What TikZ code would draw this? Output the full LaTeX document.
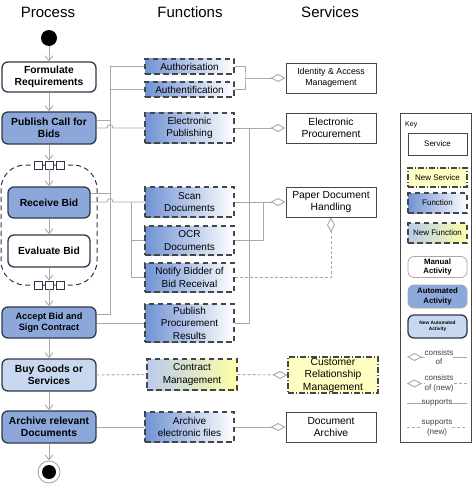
\documentclass[tikz,border=0pt]{standalone}
\usepackage{fontspec}
\setmainfont{Liberation Sans}
\usetikzlibrary{arrows.meta,shapes.geometric,calc}
\definecolor{autob}{RGB}{140,168,218}
\definecolor{lightb}{RGB}{200,216,240}
\definecolor{funcb}{RGB}{112,146,212}
\definecolor{nfuncb}{RGB}{185,203,236}
\definecolor{yel}{RGB}{255,255,196}
\definecolor{bord}{RGB}{48,56,76}
\definecolor{dash}{RGB}{70,70,70}
\definecolor{conc}{RGB}{168,168,168}
\begin{document}
\begin{tikzpicture}[x=1pt,y=-1pt,
  act/.style={draw=bord, line width=1.3pt, rounded corners=6pt, align=center, inner sep=0pt,
    font=\bfseries\fontsize{10.3}{12.5}\selectfont},
  autoact/.style={act, fill=autob},
  manact/.style={act, fill=white},
  newact/.style={act, fill=lightb},
  func/.style={draw=dash, line width=1.1pt, dash pattern=on 5.5pt off 3.5pt, left color=funcb, right color=white,
    align=center, inner sep=0pt, font=\fontsize{10}{12.5}\selectfont},
  newfunc/.style={func, left color=nfuncb, middle color=white, right color=yel!85!yellow},
  serv/.style={draw=dash, line width=0.9pt, fill=white, align=center, inner sep=0pt,
    font=\fontsize{10.3}{12.5}\selectfont},
  newserv/.style={serv, fill=yel, line width=1.1pt, dash pattern=on 6pt off 2pt on 1pt off 2pt},
  pin/.style={draw=bord, line width=0.8pt, fill=white, minimum width=8pt, minimum height=8pt, inner sep=0pt},
  conn/.style={draw=conc, line width=0.9pt},
  connnew/.style={draw=conc, line width=0.9pt, dash pattern=on 3pt off 2pt},
  flow/.style={draw=conc, line width=0.9pt, -{Straight Barb[length=5pt,width=8pt]}},
  dia/.style={-{Diamond[open,length=15pt,width=8pt]}},
  title/.style={font=\fontsize{15}{18}\selectfont},
  keytxt/.style={font=\fontsize{8}{9.5}\selectfont, align=center, inner sep=0pt}
]
\useasboundingbox (0,0) rectangle (474,484);

% titles
\node[title] (tproc) at (48,12) {Process};
\node[title] (tfunc) at (190,12) {Functions};
\node[title] (tserv) at (330,12) {Services};

% region with pins
\node[draw=bord, line width=1pt, dash pattern=on 5pt off 3.5pt, rounded corners=24pt,
  minimum width=96pt, minimum height=120pt, inner sep=0pt] (reg) at (49,225) {};
\node[pin] (pt1) at (38,165) {};
\node[pin] (pt2) at (49,165) {};
\node[pin] (pt3) at (60,165) {};
\node[pin] (pb1) at (38,285) {};
\node[pin] (pb2) at (49,285) {};
\node[pin] (pb3) at (60,285) {};

% start / end
\node[circle, fill=black, minimum size=16pt, inner sep=0pt] (start) at (49,38) {};
\node[circle, draw=conc, line width=0.9pt, fill=white, minimum size=22pt, inner sep=0pt] (endo) at (49,472) {};
\node[circle, fill=black, minimum size=14pt, inner sep=0pt] (endi) at (49,472) {};

% activities
\node[manact, minimum width=94pt, minimum height=30pt] (formulate) at (49,77) {Formulate\\Requirements};
\node[autoact, minimum width=94pt, minimum height=32pt] (publish) at (49,128) {Publish Call for\\Bids};
\node[autoact, minimum width=82pt, minimum height=31pt] (receive) at (49,202.5) {Receive Bid};
\node[manact, minimum width=82pt, minimum height=32pt] (evaluate) at (49,251) {Evaluate Bid};
\node[autoact, minimum width=94pt, minimum height=31pt, font=\bfseries\fontsize{9.2}{11.5}\selectfont] (accept) at (49,322.5) {Accept Bid and\\Sign Contract};
\node[newact, minimum width=94pt, minimum height=32pt] (buy) at (49,375) {Buy Goods or\\Services};
\node[autoact, minimum width=94pt, minimum height=32pt] (archive) at (49,427) {Archive relevant\\Documents};

% functions
\node[func, minimum width=89pt, minimum height=15pt] (auth) at (189.5,66.5) {Authorisation};
\node[func, minimum width=89pt, minimum height=15pt] (authn) at (189.5,89.5) {Authentification};
\node[func, minimum width=89pt, minimum height=30pt] (epub) at (189.5,128) {Electronic\\Publishing};
\node[func, minimum width=89pt, minimum height=30pt] (scan) at (189.5,202) {Scan\\Documents};
\node[func, minimum width=89pt, minimum height=29pt] (ocr) at (189.5,240.5) {OCR\\Documents};
\node[func, minimum width=89pt, minimum height=29pt] (notify) at (189.5,277.5) {Notify Bidder of\\Bid Receival};
\node[func, minimum width=89pt, minimum height=38pt] (ppr) at (189.5,323) {Publish\\Procurement\\Results};
\node[newfunc, minimum width=90pt, minimum height=31pt] (contract) at (192,374.5) {Contract\\Management};
\node[func, minimum width=89pt, minimum height=30pt] (aef) at (189.5,427) {Archive\\electronic files};

% services
\node[serv, minimum width=90pt, minimum height=30pt, font=\fontsize{8.8}{11}\selectfont] (iam) at (331,78) {Identity \& Access\\Management};
\node[serv, minimum width=90pt, minimum height=30pt] (eproc) at (331,128) {Electronic\\Procurement};
\node[serv, minimum width=90pt, minimum height=30pt] (pdh) at (331,202) {Paper Document\\Handling};
\node[newserv, minimum width=90pt, minimum height=36pt] (crm) at (333,375) {Customer\\Relationship\\Management};
\node[serv, minimum width=90pt, minimum height=30pt] (darch) at (331,427) {Document\\Archive};

% control flow
\draw[flow] (start) -- (formulate);
\draw[flow] (formulate) -- (publish);
\draw[flow] (publish) -- (pt2);
\draw[flow] (pt2) -- (receive);
\draw[flow] (receive) -- (evaluate);
\draw[flow] (evaluate) -- (pb2);
\draw[flow] (pb2) -- (accept);
\draw[flow] (accept) -- (buy);
\draw[flow] (buy) -- (archive);
\draw[flow] (archive) -- (endo);

% activity -> function (supports)
\coordinate (bus) at (110,66.5);
\draw[conn] (accept.east |- 0,314) -| (bus) -- (auth.west);
\draw[conn] (authn.west -| bus) -- (authn.west);
\draw[conn] (publish.east |- 0,120) -- (publish.east |- 0,120 -| bus);
\draw[conn] (receive.east |- 0,193) -- (110,193);
\draw[conn] (publish.east) -- (107,128) .. controls (107,123.5) and (113,123.5) .. (113,128) -- (epub.west);
\coordinate (br) at (131,202);
\draw[conn] (receive.east |- 0,202) -- (107,202) .. controls (107,197.5) and (113,197.5) .. (113,202) -- (br) -- (scan.west);
\draw[conn] (br) |- (ocr.west);
\draw[conn] (br) |- (notify.west);
\draw[conn] (accept.east |- 0,323) -- (ppr.west);
\draw[connnew] (buy.east) -- (contract.west);
\draw[conn] (archive.east) -- (aef.west);

% function -> service (consists of)
\coordinate (j1) at (245,78);
\draw[conn] (auth.east) -| (j1) |- (authn.east);
\draw[conn, dia] (j1) -- (iam.west);
\draw[conn, dia] (epub.east) -- (eproc.west);
\coordinate (j2) at (249,128);
\draw[conn] (ppr.east) -| (j2);
\draw[conn, dia] (scan.east) -- (pdh.west);
\coordinate (j3) at (263,202);
\draw[conn] (ocr.east) -| (j3);
\draw[connnew, dia] (notify.east) -| (pdh.south);
\draw[connnew, dia] (contract.east) -- (crm.west);
\draw[conn, dia] (aef.east) -- (darch.west);

% key
\node[draw=dash, line width=0.7pt, minimum width=71pt, minimum height=329pt, inner sep=0pt] (keybox) at (435.5,277.5) {};
\node[anchor=west, font=\fontsize{7}{8}\selectfont, inner sep=0pt] (keyl) at (405,125) {Key};
\node[serv, minimum width=59pt, minimum height=22pt, font=\fontsize{8}{9.5}\selectfont] (kserv) at (437.5,144) {Service};
\node[newserv, minimum width=59pt, minimum height=19pt, font=\fontsize{8}{9.5}\selectfont] (knserv) at (437.5,177.5) {New Service};
\node[func, minimum width=59pt, minimum height=20pt, font=\fontsize{8}{9.5}\selectfont] (kfunc) at (437.5,203) {Function};
\node[func, left color=nfuncb, right color=yel!85!yellow, minimum width=59pt, minimum height=20pt, font=\fontsize{8}{9.5}\selectfont] (knfunc) at (437.5,233) {New Function};
\node[act, draw=conc, line width=0.8pt, fill=white, minimum width=59pt, minimum height=21pt, font=\bfseries\fontsize{7.8}{9.5}\selectfont] (kman) at (437.5,267) {Manual\\Activity};
\node[act, draw=conc, line width=0.8pt, fill=autob, minimum width=59pt, minimum height=23pt, font=\bfseries\fontsize{7.8}{9.5}\selectfont] (kauto) at (437.5,296.5) {Automated\\Activity};
\node[act, fill=lightb, minimum width=59pt, minimum height=23pt, font=\bfseries\fontsize{4.8}{6}\selectfont] (knauto) at (437.5,326.5) {New Automated\\Activity};

\coordinate (k1a) at (467,357); \coordinate (k1b) at (407,357);
\draw[conn, dia] (k1a) -- (k1b);
\node[keytxt, fill=white, text=black!75] (k1t) at (439,357) {consists\\of};
\coordinate (k2a) at (467,383.5); \coordinate (k2b) at (407,383.5);
\draw[connnew, dia] (k2a) -- (k2b);
\node[keytxt, fill=white, text=black!75] (k2t) at (439,383.5) {consists\\of (new)};
\coordinate (k3a) at (407,403); \coordinate (k3b) at (467,403);
\draw[conn] (k3a) -- (k3b);
\node[keytxt, fill=white, text=black!75] (k3t) at (437,403) {supports};
\coordinate (k4a) at (407,427.5); \coordinate (k4b) at (467,427.5);
\draw[connnew] (k4a) -- (k4b);
\node[keytxt, fill=white, text=black!75] (k4t) at (437,427.5) {supports\\(new)};
\end{tikzpicture}
\end{document}
